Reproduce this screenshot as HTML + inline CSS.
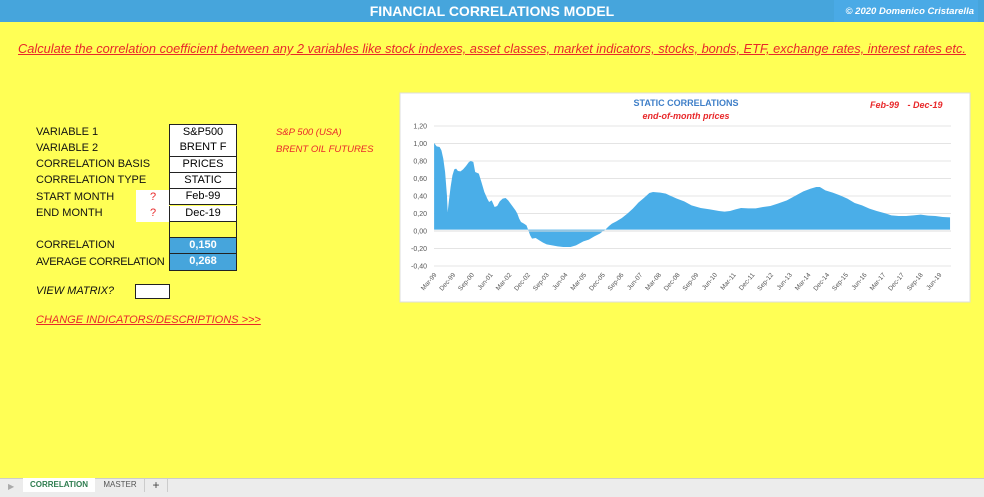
<!DOCTYPE html>
<html><head><meta charset="utf-8"><style>
body{margin:0;width:984px;height:496px;overflow:hidden;background:#ffff55;font-family:"Liberation Sans",sans-serif;position:relative}
.a{position:absolute}
.hdr{left:0;top:0;width:984px;height:22px;background:#46a5dc;color:#fff;font-weight:bold;font-size:14px;text-align:center;line-height:22px}
.lbl{left:36px;font-size:11px;color:#111}
.cell{left:169px;width:66px;height:15.3px;border:1px solid #222;border-top:none;background:#fff;font-size:11px;text-align:center;line-height:15px}
</style></head><body>
<div class="a hdr">FINANCIAL CORRELATIONS MODEL</div>
<div class="a" style="right:6px;top:0;height:22px;width:140px;background:#4aaae6;color:#fff;font-size:9.5px;font-style:italic;font-weight:bold;line-height:24px;text-align:right;padding-right:4px">© 2020 Domenico Cristarella</div>
<div class="a" style="left:0;top:41px;width:984px;text-align:center;color:#e8282a;font-size:12.8px;font-style:italic;text-decoration:underline;letter-spacing:0px">Calculate the correlation coefficient between any 2 variables like stock indexes, asset classes, market indicators, stocks, bonds, ETF, exchange rates, interest rates etc.</div>

<div class="a lbl" style="top:126px">VARIABLE 1</div>
<div class="a lbl" style="top:142px">VARIABLE 2</div>
<div class="a lbl" style="top:158px">CORRELATION BASIS</div>
<div class="a lbl" style="top:174px">CORRELATION TYPE</div>
<div class="a lbl" style="top:191px">START MONTH</div>
<div class="a lbl" style="top:207px">END MONTH</div>
<div class="a lbl" style="top:239px">CORRELATION</div>
<div class="a lbl" style="top:256px;letter-spacing:-0.3px">AVERAGE CORRELATION</div>
<div class="a" style="left:136px;top:190px;width:33px;height:32px;background:#fff"></div>
<div class="a" style="left:150px;top:191px;color:#e8282a;font-size:11px">?</div>
<div class="a" style="left:150px;top:207px;color:#e8282a;font-size:11px">?</div>
<div class="a cell" style="top:124px;border-top:1px solid #222">S&amp;P500</div>
<div class="a cell" style="top:140.3px">BRENT F</div>
<div class="a cell" style="top:156.6px">PRICES</div>
<div class="a cell" style="top:172.9px">STATIC</div>
<div class="a cell" style="top:189.2px">Feb-99</div>
<div class="a cell" style="top:205.5px">Dec-19</div>
<div class="a cell" style="top:221.8px;background:#ffff55"></div>
<div class="a cell" style="top:238.1px;background:#46a5dc;color:#fff;font-weight:bold">0,150</div>
<div class="a cell" style="top:254.4px;background:#46a5dc;color:#fff;font-weight:bold">0,268</div>
<div class="a" style="left:276px;top:127px;color:#e8282a;font-size:9.5px;font-style:italic">S&amp;P 500 (USA)</div>
<div class="a" style="left:276px;top:144px;color:#e8282a;font-size:9.5px;font-style:italic">BRENT OIL FUTURES</div>
<div class="a lbl" style="top:285px;font-style:italic">VIEW MATRIX?</div>
<div class="a" style="left:135px;top:284px;width:33px;height:13px;border:1px solid #222;background:#fff"></div>
<div class="a" style="left:36px;top:314px;color:#e8282a;font-size:11px;font-style:italic;text-decoration:underline">CHANGE INDICATORS/DESCRIPTIONS &gt;&gt;&gt;</div>

<svg class="a" style="left:0;top:0" width="984" height="496">
<rect x="400" y="93" width="570" height="209" fill="#fff" stroke="#ddd"/>
<text x="686" y="106" text-anchor="middle" font-size="9" font-weight="bold" fill="#3f7fc8">STATIC CORRELATIONS</text>
<text x="686" y="119" text-anchor="middle" font-size="9" font-style="italic" font-weight="bold" fill="#e8282a">end-of-month prices</text>
<text x="870" y="108" font-size="9" font-style="italic" font-weight="bold" fill="#e8282a">Feb-99 <tspan dx="6">- Dec-19</tspan></text>
<g stroke="#e4e4e4" stroke-width="1">
<line x1="434" x2="951" y1="126" y2="126"/><line x1="434" x2="951" y1="143.5" y2="143.5"/><line x1="434" x2="951" y1="161" y2="161"/><line x1="434" x2="951" y1="178.5" y2="178.5"/><line x1="434" x2="951" y1="196" y2="196"/><line x1="434" x2="951" y1="213.5" y2="213.5"/><line x1="434" x2="951" y1="248.5" y2="248.5"/><line x1="434" x2="951" y1="266" y2="266"/>
</g>
<g font-size="7" fill="#555" text-anchor="end">
<text x="427" y="128.5">1,20</text><text x="427" y="146">1,00</text><text x="427" y="163.5">0,80</text><text x="427" y="181">0,60</text><text x="427" y="198.5">0,40</text><text x="427" y="216">0,20</text><text x="427" y="233.5">0,00</text><text x="427" y="251">-0,20</text><text x="427" y="268.5">-0,40</text>
</g>
<g transform="translate(400,92) scale(0.3667,0.3333)">
<path fill="#4aaee8" d="M93,153 L100,163 108,165 113,175 118,200 123,240 128,310 130,360 133,330 138,285 143,250 148,232 153,230 158,237 165,238 172,232 180,222 188,210 193,207 200,210 205,240 215,245 222,270 230,300 238,320 243,330 250,325 258,345 265,342 272,328 280,320 288,318 295,325 305,340 315,355 320,365 325,380 330,390 338,395 345,400 350,415 355,430 360,440 370,438 380,445 390,452 400,457 415,460 430,463 445,465 465,465 480,460 500,448 515,443 530,433 545,425 553,418 560,413 570,402 578,395 590,388 605,378 620,365 635,350 650,332 665,318 680,303 690,300 710,302 725,305 735,310 755,320 775,328 795,340 820,348 845,352 870,357 885,359 900,357 915,352 930,348 950,349 970,349 990,345 1010,342 1030,335 1055,325 1080,310 1100,298 1120,290 1135,285 1145,285 1160,295 1180,302 1200,310 1220,320 1240,333 1260,340 1280,350 1300,357 1320,363 1340,370 1360,372 1380,372 1400,370 1420,368 1440,371 1460,372 1480,375 1500,376 L1500,413 L93,413 Z"/>
</g>
<line x1="434" x2="951" y1="231" y2="231" stroke="#ddd"/>
<g font-size="6.5" fill="#555" text-anchor="end">
<text transform="translate(437,275) rotate(-50)">Mar-99</text>
<text transform="translate(455.7,275) rotate(-50)">Dec-99</text>
<text transform="translate(474.4,275) rotate(-50)">Sep-00</text>
<text transform="translate(493.1,275) rotate(-50)">Jun-01</text>
<text transform="translate(511.8,275) rotate(-50)">Mar-02</text>
<text transform="translate(530.5,275) rotate(-50)">Dec-02</text>
<text transform="translate(549.2,275) rotate(-50)">Sep-03</text>
<text transform="translate(567.9,275) rotate(-50)">Jun-04</text>
<text transform="translate(586.6,275) rotate(-50)">Mar-05</text>
<text transform="translate(605.3,275) rotate(-50)">Dec-05</text>
<text transform="translate(624,275) rotate(-50)">Sep-06</text>
<text transform="translate(642.7,275) rotate(-50)">Jun-07</text>
<text transform="translate(661.4,275) rotate(-50)">Mar-08</text>
<text transform="translate(680.1,275) rotate(-50)">Dec-08</text>
<text transform="translate(698.8,275) rotate(-50)">Sep-09</text>
<text transform="translate(717.5,275) rotate(-50)">Jun-10</text>
<text transform="translate(736.2,275) rotate(-50)">Mar-11</text>
<text transform="translate(754.9,275) rotate(-50)">Dec-11</text>
<text transform="translate(773.6,275) rotate(-50)">Sep-12</text>
<text transform="translate(792.3,275) rotate(-50)">Jun-13</text>
<text transform="translate(811,275) rotate(-50)">Mar-14</text>
<text transform="translate(829.7,275) rotate(-50)">Dec-14</text>
<text transform="translate(848.4,275) rotate(-50)">Sep-15</text>
<text transform="translate(867.1,275) rotate(-50)">Jun-16</text>
<text transform="translate(885.8,275) rotate(-50)">Mar-17</text>
<text transform="translate(904.5,275) rotate(-50)">Dec-17</text>
<text transform="translate(923.2,275) rotate(-50)">Sep-18</text>
<text transform="translate(941.9,275) rotate(-50)">Jun-19</text>
</g>
</svg>

<div class="a" style="left:0;top:478px;width:984px;height:18px;background:#ececec;border-top:1px solid #ccc"></div>
<div class="a" style="left:8px;top:482px;font-size:8px;color:#aaa">▶</div>
<div class="a" style="left:23px;top:478px;width:72px;height:14px;background:#fff;color:#2e7d4f;font-size:8px;font-weight:bold;text-align:center;line-height:14px">CORRELATION</div>
<div class="a" style="left:96px;top:478px;width:48px;height:14px;color:#555;font-size:8px;text-align:center;line-height:14px;border-right:1px solid #ccc">MASTER</div>
<div class="a" style="left:145px;top:478px;width:22px;height:14px;color:#444;font-size:12px;text-align:center;line-height:14px;border-right:1px solid #ccc">+</div>
</body></html>
